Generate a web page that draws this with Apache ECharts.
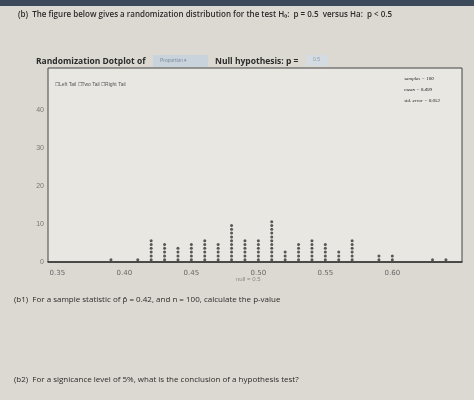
<!DOCTYPE html>
<html><head><meta charset="utf-8">
<script src="https://cdn.jsdelivr.net/npm/echarts@6/dist/echarts.min.js"></script>
<style>html,body{margin:0;padding:0;background:#dcd9d2}#c{width:474px;height:400px}</style>
</head><body><div id="c"></div>
<script>
var chart = echarts.init(document.getElementById('c'));
// dot positions (proportion) and number of dots stacked there
var xs = [0.39, 0.41, 0.42, 0.43, 0.44, 0.45, 0.46, 0.47, 0.48, 0.49, 0.50, 0.51, 0.52, 0.53, 0.54, 0.55, 0.56, 0.57, 0.59, 0.60, 0.63, 0.64];
var counts = [1, 1, 6, 5, 4, 5, 6, 5, 10, 6, 6, 11, 3, 5, 6, 5, 3, 6, 2, 2, 1, 1];
var xTicks = [0.35, 0.40, 0.45, 0.50, 0.55, 0.60];
var yTicks = [0, 10, 20, 30, 40];

var dots = [];
xs.forEach(function (x, i) {
    for (var k = 1; k <= counts[i]; k++) dots.push([x, k - 0.4]);
});

var txt = '#2b2b2b';
chart.setOption({
    backgroundColor: '#dcd9d2',
    grid: { left: 48, right: 12, top: 68, bottom: 138, show: true, backgroundColor: '#e9e7e2', borderColor: '#444', borderWidth: 1 },
    xAxis: {
        type: 'value', min: 0.343, max: 0.652,
        axisLine: { show: true, lineStyle: { color: '#333', width: 1.5 } },
        axisTick: { show: false },
        splitLine: { show: false },
        axisLabel: {
            color: '#666', fontSize: 7, fontFamily: 'DejaVu Sans',
            customValues: xTicks,
            formatter: function (v) { return v.toFixed(2); }
        }
    },
    yAxis: {
        type: 'value', min: 0, max: 51,
        axisLine: { show: false }, axisTick: { show: false }, splitLine: { show: false },
        axisLabel: { color: '#777', fontSize: 7, customValues: yTicks, margin: 4 }
    },
    series: [{
        type: 'scatter', data: dots, symbolSize: 3,
        itemStyle: { color: '#333' }, silent: true,
        markLine: {
            silent: true, symbol: 'none',
            lineStyle: { color: '#222', width: 2, type: 'solid' },
            label: { show: false },
            data: [[{ coord: [0.5, -2.5] }, { coord: [0.5, 1.5] }]]
        }
    }],
    graphic: [
        { type: 'rect', shape: { x: 0, y: 0, width: 474, height: 6 }, style: { fill: '#3c4a5c' } },
        { type: 'text', left: 18, top: 11, style: { text: '(b)  The figure below gives a randomization distribution for the test H\u2080:  p = 0.5  versus Ha:  p < 0.5', fill: txt, font: '600 8px "Open Sans"' } },
        { type: 'text', left: 36, top: 57, style: { text: 'Randomization Dotplot of', fill: txt, font: 'bold 8.5px "Open Sans"' } },
        { type: 'rect', shape: { x: 153, y: 55, width: 55, height: 12 }, style: { fill: '#c9d3dc' } },
        { type: 'text', left: 160, top: 58, style: { text: 'Proportion \u25be', fill: '#7a8a9c', font: '5px sans-serif' } },
        { type: 'text', left: 215, top: 57, style: { text: 'Null hypothesis: p =', fill: txt, font: 'bold 8.5px "Open Sans"' } },
        { type: 'rect', shape: { x: 306, y: 55, width: 22, height: 11 }, style: { fill: '#d4dbe1' } },
        { type: 'text', left: 313, top: 57, style: { text: '0.5', fill: '#8a9aaa', font: '5px sans-serif' } },
        { type: 'text', left: 55, top: 82, style: { text: '\u2610Left Tail \u2610Two Tail \u2610Right Tail', fill: '#555', font: '5px sans-serif' } },
        { type: 'text', right: 34, top: 73, style: { text: 'samples = 100\nmean = 0.499\nstd. error = 0.052', align: 'right', fill: '#222', font: 'italic 5px serif', lineHeight: 11 } },
        { type: 'text', left: 236, top: 276, style: { text: 'null = 0.5', fill: '#888', font: '6px sans-serif' } },
        { type: 'text', left: 14, top: 296, style: { text: '(b1)  For a sample statistic of p\u0302 = 0.42, and n = 100, calculate the p-value', fill: txt, font: '8px "Open Sans"' } },
        { type: 'text', left: 14, top: 376, style: { text: '(b2)  For a signicance level of 5%, what is the conclusion of a hypothesis test?', fill: txt, font: '8px "Open Sans"' } }
    ]
});
</script></body></html>
